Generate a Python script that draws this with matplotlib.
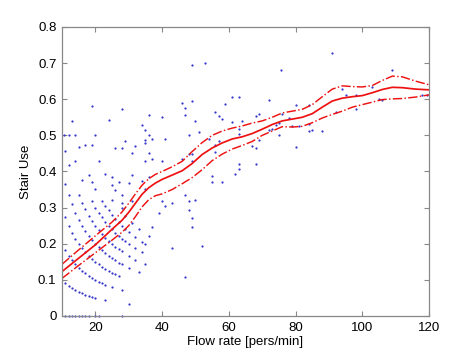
import numpy as np
import matplotlib
matplotlib.use('Agg')
import matplotlib.pyplot as plt

plt.rcParams['font.family'] = ['Liberation Sans', 'DejaVu Sans']

# observed points: low flow rates (fan of fractions)
low_x = [11, 12, 13, 14, 15, 16, 17, 18, 20, 21, 28,
         11, 12, 13, 14, 15, 16, 17, 18, 19, 20, 23, 30,
         11, 12, 13, 14, 15, 16, 17, 18, 19, 20, 21, 22, 23, 25, 28,
         11, 12, 13, 14, 15, 16, 17, 18, 19, 20, 21, 22, 23, 24, 25, 26, 27,
         14, 15, 16, 17, 18, 19, 20, 21, 22, 23, 24, 25, 26, 27, 28, 30, 33,
         18, 19, 20, 21, 22, 23, 24, 25, 26, 27, 28, 30, 32, 35,
         20, 21, 22, 23, 24, 25, 26, 27, 28, 29, 30, 32, 34,
         23, 24, 25, 26, 27, 28, 29, 30, 32, 35,
         29, 31, 33, 36]
low_y = [0, 0, 0, 0, 0, 0, 0, 0, 0, 0, 0,
         0.091, 0.083, 0.077, 0.071, 0.067, 0.063, 0.059, 0.056, 0.053, 0.05, 0.043, 0.033,
         0.182, 0.167, 0.154, 0.143, 0.133, 0.125, 0.118, 0.111, 0.105, 0.1, 0.095, 0.091, 0.087, 0.08, 0.071,
         0.273, 0.25, 0.231, 0.214, 0.2, 0.188, 0.176, 0.167, 0.158, 0.15, 0.143, 0.136, 0.13, 0.125, 0.12, 0.115, 0.111,
         0.286, 0.267, 0.25, 0.235, 0.222, 0.211, 0.2, 0.19, 0.182, 0.174, 0.167, 0.16, 0.154, 0.148, 0.143, 0.133, 0.121,
         0.278, 0.263, 0.25, 0.238, 0.227, 0.217, 0.208, 0.2, 0.192, 0.185, 0.179, 0.167, 0.156, 0.143,
         0.3, 0.286, 0.273, 0.261, 0.25, 0.24, 0.231, 0.222, 0.214, 0.207, 0.2, 0.188, 0.176,
         0.304, 0.292, 0.28, 0.269, 0.259, 0.25, 0.241, 0.233, 0.219, 0.2,
         0.276, 0.258, 0.242, 0.222]

# observed points: upper left region
mid_x = [19, 28, 13, 24, 36, 40, 34, 35, 10.5, 12, 14, 20, 36, 29, 35, 37, 41,
         15, 17, 19, 26, 28, 32, 11, 31, 14, 21, 12, 35, 37, 40, 23, 18, 16, 11,
         19, 25, 31, 34, 36, 27, 30, 25, 20, 12, 15, 26, 28, 35, 13, 16, 19, 22,
         25, 28, 31, 17, 28, 40, 41, 43, 37, 34, 39, 43, 35, 36]
mid_y = [0.582, 0.573, 0.541, 0.543, 0.557, 0.55, 0.529, 0.515, 0.501, 0.501, 0.501,
         0.501, 0.501, 0.485, 0.487, 0.489, 0.489, 0.469, 0.472, 0.474, 0.464, 0.466,
         0.471, 0.457, 0.452, 0.43, 0.43, 0.418, 0.43, 0.434, 0.43, 0.393, 0.391,
         0.377, 0.365, 0.37, 0.386, 0.389, 0.374, 0.386, 0.37, 0.367, 0.363, 0.352,
         0.335, 0.335, 0.349, 0.335, 0.352, 0.31, 0.314, 0.317, 0.319, 0.321, 0.312,
         0.317, 0.296, 0.298, 0.317, 0.305, 0.314, 0.245, 0.206, 0.284, 0.187, 0.478, 0.45]

# observed points: higher flow rates
high_x = [46, 47, 49, 47, 50, 56, 57, 58, 59, 61, 63, 72, 80, 84, 84, 85, 81, 79,
          78, 76, 75, 73, 75, 69, 68, 69, 68, 67, 68, 80, 64, 61, 63, 63, 51, 48,
          57, 56, 56, 54, 48, 49, 49, 46, 55, 55, 58, 62, 63, 63, 47, 48, 50, 48,
          49, 49, 52, 47, 49, 53, 75.5, 91, 109, 94, 95, 98, 103, 105, 106, 98,
          92, 88, 118, 119.5, 84, 74, 72]
high_y = [0.589, 0.575, 0.594, 0.555, 0.541, 0.566, 0.554, 0.545, 0.587, 0.607,
          0.605, 0.598, 0.584, 0.584, 0.532, 0.514, 0.527, 0.527, 0.548, 0.56,
          0.534, 0.517, 0.501, 0.56, 0.554, 0.488, 0.464, 0.471, 0.421, 0.469,
          0.541, 0.536, 0.517, 0.504, 0.51, 0.5, 0.483, 0.474, 0.455, 0.49,
          0.449, 0.449, 0.43, 0.434, 0.388, 0.372, 0.372, 0.393, 0.406, 0.42,
          0.335, 0.319, 0.321, 0.293, 0.27, 0.246, 0.194, 0.107, 0.695, 0.70,
          0.681, 0.727, 0.68, 0.628, 0.612, 0.612, 0.633, 0.601, 0.598, 0.574,
          0.566, 0.513, 0.612, 0.612, 0.513, 0.529, 0.515]

# fitted curve and confidence bounds
fit_x = [10, 15, 20, 25, 28, 30, 32, 34, 36, 38, 40, 43, 46, 49, 52, 55, 58,
         61, 64, 67, 70, 73, 76, 79, 82, 85, 88, 91, 94, 97, 100, 103, 106, 109,
         112, 116, 120]
fit_y = [0.123, 0.16, 0.197, 0.24, 0.265, 0.287, 0.312, 0.337, 0.355, 0.368,
         0.378, 0.39, 0.402, 0.422, 0.447, 0.465, 0.479, 0.49, 0.496, 0.505,
         0.517, 0.53, 0.54, 0.545, 0.55, 0.56, 0.578, 0.595, 0.603, 0.607, 0.61,
         0.618, 0.627, 0.633, 0.632, 0.628, 0.626]
upper_y = [0.143, 0.183, 0.222, 0.26, 0.288, 0.312, 0.338, 0.362, 0.38, 0.392,
           0.4, 0.413, 0.428, 0.455, 0.48, 0.5, 0.512, 0.52, 0.526, 0.534, 0.54,
           0.55, 0.562, 0.567, 0.572, 0.585, 0.607, 0.628, 0.637, 0.635, 0.634,
           0.638, 0.652, 0.664, 0.662, 0.65, 0.64]
lower_y = [0.104, 0.14, 0.175, 0.21, 0.232, 0.25, 0.275, 0.302, 0.322, 0.333,
           0.338, 0.35, 0.366, 0.383, 0.405, 0.43, 0.448, 0.462, 0.472, 0.483,
           0.5, 0.512, 0.524, 0.523, 0.525, 0.535, 0.548, 0.558, 0.567, 0.578,
           0.585, 0.592, 0.599, 0.601, 0.602, 0.606, 0.612]

fig = plt.figure(figsize=(4.74, 3.55), dpi=100)
ax = fig.add_axes([0.1308, 0.1099, 0.7743, 0.8141])

dot = dict(ls='none', marker='o', ms=1.6, mec='none', mfc='#3535cc', clip_on=False)
ax.plot(low_x, low_y, **dot)
ax.plot(mid_x, mid_y, **dot)
ax.plot(high_x, high_y, **dot)

ax.plot(fit_x, fit_y, color='#ee1111', lw=1.25)
ax.plot(fit_x, upper_y, color='#ee1111', lw=1.05, ls='-.')
ax.plot(fit_x, lower_y, color='#ee1111', lw=1.05, ls='-.')

ax.set_xlim(10, 120)
ax.set_ylim(0, 0.8)
ax.set_xticks([20, 40, 60, 80, 100, 120])
ax.set_yticks(np.arange(0, 0.81, 0.1))
ax.set_yticklabels(['0', '0.1', '0.2', '0.3', '0.4', '0.5', '0.6', '0.7', '0.8'])
ax.tick_params(direction='in', length=3.5, width=0.8, color='#888888',
               top=True, right=True, labelsize=9.5, pad=4)
for s in ax.spines.values():
    s.set_color('#888888')
    s.set_linewidth(0.9)

ax.set_xlabel('Flow rate [pers/min]', fontsize=9.5, labelpad=2)
ax.set_ylabel('Stair Use', fontsize=9.5, labelpad=4)

fig.savefig('out.png', dpi=100)
